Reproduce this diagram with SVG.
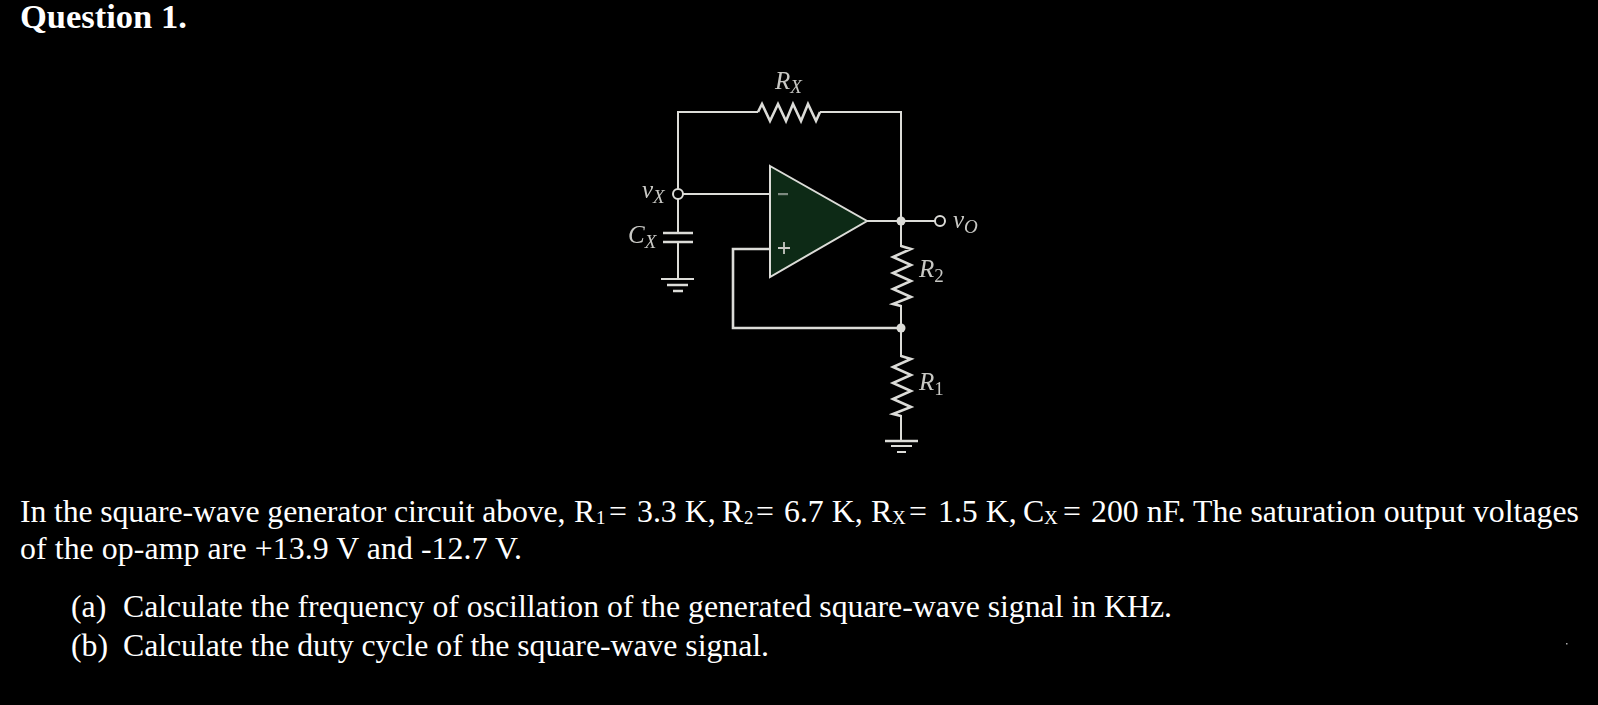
<svg xmlns="http://www.w3.org/2000/svg" width="1598" height="705" viewBox="0 0 1598 705">
<defs><filter id="soft" x="-5%" y="-5%" width="110%" height="110%"><feGaussianBlur stdDeviation="0.45"/></filter></defs>
<style>
.t{font-family:"Liberation Serif",serif;font-size:31.8px;fill:#fff}
.s{font-size:19px}
.w{fill:none;stroke:#dcdcd8;stroke-width:2}
.b{stroke-width:2.600}
.l{font-family:"Liberation Serif",serif;font-style:italic;font-size:25px;fill:#c8c8c4}
.u{font-size:19px}
.n{font-style:normal}
.d{fill:#dcdcd8}
</style>
<rect width="1598" height="705" fill="#000"/>
<g filter="url(#soft)">
<g id="connectors">
<path class="w" d="M758 112H678V189M683 194H770M678 199V233M678 242V279"/>
<path class="w" d="M820 112H901V221M867 221H935M901 221V247M901 305V357M901 415V441"/>
<path class="w b" d="M770 249H733V328H901"/>
</g>
<g id="rx"><path class="w b" d="M758 112L762 104L770 121L778 104L786 121L793 104L801 121L808 104L816 121L820 112"/></g>
<g id="r2"><path class="w b" d="M901 246L911 249L893 257L911 265L893 273L911 281L893 289L911 297L893 304L901 306"/></g>
<g id="r1"><path class="w b" d="M901 356L911 359L893 367L911 375L893 383L911 391L893 399L911 407L893 414L901 416"/></g>
<g id="opamp">
<path d="M770 166L867 221L770 277Z" fill="#0a2a14" stroke="#dcdcd8" stroke-width="2"/>
<rect x="778" y="193" width="10" height="2.200" fill="#7d8a80"/>
<path d="M778 248H790M784 242V254" stroke="#c8c8c4" stroke-width="1.800" fill="none"/>
</g>
<g id="cx">
<path class="w b" d="M663 233H693M663 242H693"/>
</g>
<g id="ground-x"><path class="w" d="M661 279H694"/><path class="w b" d="M667 285H688M673 291H683"/></g>
<g id="ground-1"><path class="w b" d="M885 441H918"/><path class="w" d="M891 446H912M897 452H906"/></g>
<g id="node-vx"><circle cx="678" cy="194" r="5" fill="none" stroke="#dcdcd8" stroke-width="2"/></g>
<g id="node-vo"><circle cx="940" cy="221" r="5" fill="none" stroke="#dcdcd8" stroke-width="2"/></g>
<g id="junctions"><circle class="d" cx="901" cy="221" r="4.500"/><circle class="d" cx="901" cy="328" r="4.500"/></g>
<g id="labels">
<text class="l" x="775" y="89">R<tspan class="u" dy="4">X</tspan></text>
<text class="l" x="642" y="198">v<tspan class="u" dy="5">X</tspan></text>
<text class="l" x="628" y="243">C<tspan class="u" dy="5">X</tspan></text>
<text class="l" x="953" y="228">v<tspan class="u" dy="5">O</tspan></text>
<text class="l" x="919" y="277">R<tspan class="u n" dy="5">2</tspan></text>
<text class="l" x="919" y="390">R<tspan class="u n" dy="5">1</tspan></text>
</g>
</g>
<g id="text">
<text x="20" y="28" font-family="Liberation Serif,serif" font-weight="bold" font-size="34.500" fill="#fff">Question 1.</text>
<text class="t" x="20" y="522"><tspan letter-spacing="-0.130">In the square-wave generator circuit above,</tspan> <tspan x="574">R</tspan><tspan class="s" x="596" dy="2">1</tspan><tspan x="609" dy="-2">=</tspan> <tspan x="637">3.3 K,</tspan> <tspan x="722">R</tspan><tspan class="s" x="744" dy="2">2</tspan><tspan x="756" dy="-2">=</tspan> <tspan x="784">6.7 K,</tspan> <tspan x="871">R</tspan><tspan class="s" x="892" dy="2">X</tspan><tspan x="909" dy="-2">=</tspan> <tspan x="938">1.5 K,</tspan> <tspan x="1023">C</tspan><tspan class="s" x="1044" dy="2">X</tspan><tspan x="1063" dy="-2">=</tspan> <tspan x="1091">200 nF. The saturation output voltages</tspan></text>
<text class="t" x="20" y="559" textLength="502">of the op-amp are +13.9 V and -12.7 V.</text>
<text class="t" x="71" y="617">(a)</text>
<text class="t" x="123" y="617" textLength="1049">Calculate the frequency of oscillation of the generated square-wave signal in KHz.</text>
<text class="t" x="71" y="656">(b)</text>
<text class="t" x="123" y="656" textLength="646">Calculate the duty cycle of the square-wave signal.</text>
</g>
<rect x="1566" y="643" width="1.500" height="1.500" fill="#aaa"/>
</svg>
